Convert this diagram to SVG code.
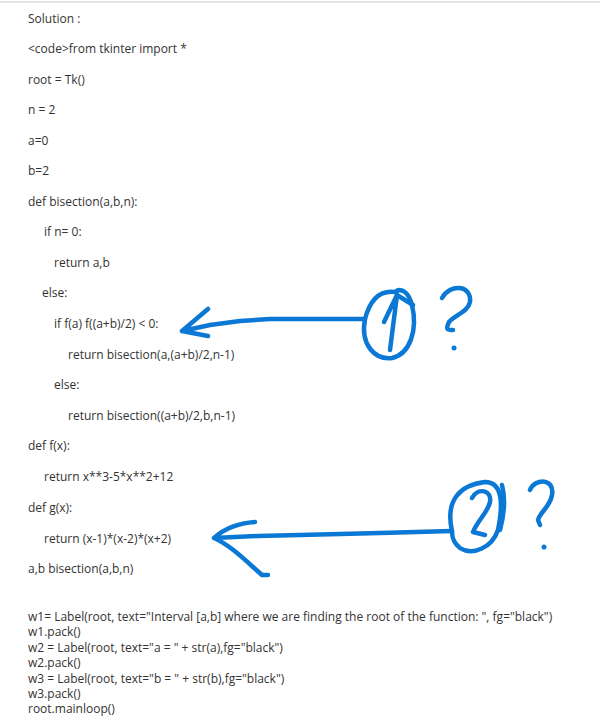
<svg xmlns="http://www.w3.org/2000/svg" width="600" height="718" viewBox="0 0 600 718">
<style>
text{font-family:"Open Sans","Noto Sans","Liberation Sans",sans-serif;font-size:12px;fill:#333}
.ink{fill:none;stroke:#0a78d4;stroke-width:4.5;stroke-linecap:round;stroke-linejoin:round}
</style>
<rect width="600" height="718" fill="#fff"/>
<line x1="0" y1="2" x2="600" y2="2" stroke="#ddd" stroke-width="1.5"/>
<g id="code">
<text x="28" y="23">Solution :</text>
<text x="28" y="53">&lt;code&gt;from tkinter import *</text>
<text x="28" y="84">root = Tk()</text>
<text x="28" y="114">n = 2</text>
<text x="28" y="145">a=0</text>
<text x="28" y="175">b=2</text>
<text x="28" y="206">def bisection(a,b,n):</text>
<text x="44" y="236">if n= 0:</text>
<text x="54" y="267">return a,b</text>
<text x="42" y="297">else:</text>
<text x="54" y="328">if f(a) f((a+b)/2) &lt; 0:</text>
<text x="68" y="359">return bisection(a,(a+b)/2,n-1)</text>
<text x="54" y="389">else:</text>
<text x="68" y="420">return bisection((a+b)/2,b,n-1)</text>
<text x="28" y="450">def f(x):</text>
<text x="44" y="481">return x**3-5*x**2+12</text>
<text x="28" y="512">def g(x):</text>
<text x="44" y="543">return (x-1)*(x-2)*(x+2)</text>
<text x="28" y="573">a,b bisection(a,b,n)</text>
<text x="28" y="621">w1= Label(root, text="Interval [a,b] where we are finding the root of the function: ", fg="black")</text>
<text x="28" y="636">w1.pack()</text>
<text x="28" y="652">w2 = Label(root, text="a = " + str(a),fg="black")</text>
<text x="28" y="667">w2.pack()</text>
<text x="28" y="683">w3 = Label(root, text="b = " + str(b),fg="black")</text>
<text x="28" y="698">w3.pack()</text>
<text x="28" y="713">root.mainloop()</text>
</g>
<g id="annotation1">
<path class="ink" d="M365,319 L270,319 L240,321 L210,325 L182,331 M182,331 L208,309 M182,331 L208,336"/>
<path class="ink" d="M365,319 C360,345 375,360 392,358 C410,354 418,330 412,305 C408,290 400,288 395,292 C380,290 370,300 365,319"/>
<path class="ink" d="M390,350 L397,295 L384,322 M397,295 L413,305"/>
<path class="ink" d="M442,298 C450,283 472,285 470,302 C468,312 455,315 449,322 C445,330 448,330 453,330"/>
<circle cx="454" cy="348" r="2.5" fill="#0a78d4"/>
</g>
<g id="annotation2">
<path class="ink" d="M452,531 L380,533 L300,535 L258,536 L214,538 M214,538 C225,528 240,523 255,522 M214,538 C230,545 245,560 262,575 L268,575"/>
<path class="ink" d="M452,531 C445,500 460,485 485,482 C505,482 502,510 498,530 C492,548 472,556 460,548 C452,542 452,535 452,531"/>
<path class="ink" d="M472,498 C478,487 492,490 490,502 C488,512 478,520 473,532 L485,535"/>
<path class="ink" d="M502,485 C506,500 504,515 500,530"/>
<path class="ink" d="M530,490 C535,478 555,478 552,495 C550,507 540,512 538,520 L540,525"/>
<circle cx="544" cy="547" r="2.5" fill="#0a78d4"/>
</g>
</svg>
